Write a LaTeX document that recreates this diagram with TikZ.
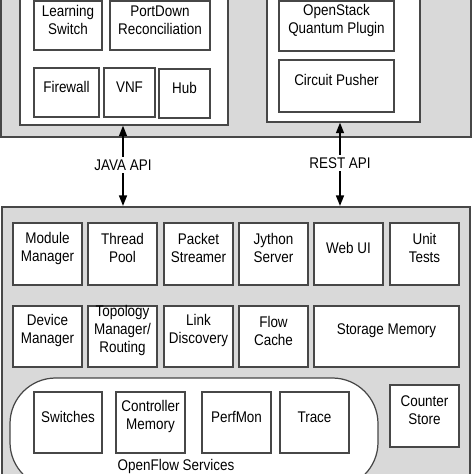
\documentclass[tikz,border=0pt]{standalone}
\usepackage{fontspec}
\setmainfont{Liberation Sans}[FakeStretch=0.87]
\usetikzlibrary{fit,arrows.meta}
\definecolor{panelgray}{HTML}{D9D9D9}
\definecolor{edgegray}{HTML}{474747}
\tikzset{
  panel/.style={draw=edgegray, line width=1.2pt, fill=panelgray, inner sep=0pt},
  group/.style={draw=edgegray, line width=0.7pt, fill=white, inner sep=0pt},
  module/.style={draw=edgegray, line width=0.6pt, fill=white, inner sep=0pt,
    align=center, font=\fontsize{8.8}{10.2}\selectfont},
  api/.style={font=\fontsize{8.8}{10.2}\selectfont, inner sep=1.5pt},
  apiarrow/.style={-{Triangle[length=6pt,width=4.5pt]}, line width=1pt}
}
\begin{document}
\begin{tikzpicture}[x=0.02cm,y=-0.02cm]
  \useasboundingbox (0,0) rectangle (474,474);
  \clip (0,0) rectangle (474,474);
  % applications layer
  \node[panel, fit={(1,-10) (471,137)}] (apps) {};
  \node[group, fit={(20,-10) (228,125)}] (javaapps) {};
  \node[group, fit={(267,-10) (420,122)}] (restapps) {};
  \node[module, fit={(34,1) (102,50)}] (learn) {Learning\\Switch};
  \node[module, fit={(110,1) (210,50)}] (portdown) {PortDown\\Reconciliation};
  \node[module, fit={(34,68) (99,117)}] (firewall) {Firewall};
  \node[module, fit={(104,68) (155,117)}] (vnf) {VNF};
  \node[module, fit={(159,69) (210,118)}] (hub) {Hub};
  \node[module, fit={(279,1) (394,51)}] (quantum) {OpenStack\\Quantum Plugin};
  \node[module, fit={(279,60) (394,112)}] (pusher) {Circuit Pusher};
  % controller core
  \node[panel, fit={(2,207) (470,490)}] (core) {};
  \node[module, fit={(13,223) (82,285)}] (modmgr) {Module\\Manager};
  \node[module, fit={(88,223) (157,285)}] (threads) {Thread\\Pool};
  \node[module, fit={(164,223) (233,285)}] (streamer) {Packet\\Streamer};
  \node[module, fit={(239,223) (308,285)}] (jython) {Jython\\Server};
  \node[module, fit={(314,223) (383,285)}] (webui) {Web UI};
  \node[module, fit={(390,223) (459,285)}] (tests) {Unit\\Tests};
  \node[module, fit={(13,306) (82,367)}] (devmgr) {Device\\Manager};
  \node[module, fit={(88,306) (157,367)}] (topo) {Topology\\Manager/\\Routing};
  \node[module, fit={(164,306) (233,367)}] (linkdisc) {Link\\Discovery};
  \node[module, fit={(239,306) (308,367)}] (flowcache) {Flow\\Cache};
  \node[module, fit={(314,306) (459,367)}] (storage) {Storage Memory};
  \node[group, rounded corners=26pt, fit={(10,378) (378,488)}] (ofregion) {};
  \node[module, fit={(34,392) (102,453)}] (switches) {Switches};
  \node[module, fit={(116,392) (185,453)}] (ctrlmem) {Controller\\Memory};
  \node[module, fit={(202,392) (271,453)}] (perfmon) {PerfMon};
  \node[module, fit={(280,392) (349,453)}] (trace) {Trace};
  \node[module, fit={(390,385) (459,447)}] (counter) {Counter\\Store};
  \node[api] (ofs) at (176,466) {OpenFlow Services};
  % northbound interfaces
  \node[api] (java) at (123,165) {JAVA API};
  \node[api] (rest) at (340,163) {REST API};
  \draw[apiarrow] (java) -- (java |- javaapps.south);
  \draw[apiarrow] (java) -- (java |- core.north);
  \draw[apiarrow] (rest) -- (rest |- restapps.south);
  \draw[apiarrow] (rest) -- (rest |- core.north);
\end{tikzpicture}
\end{document}
